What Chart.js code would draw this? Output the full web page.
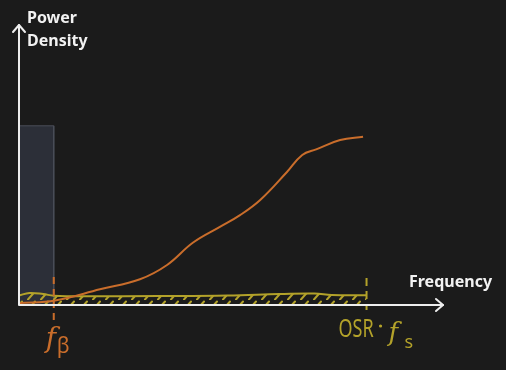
<!DOCTYPE html>
<html>
<head>
<meta charset="utf-8">
<script src="https://cdn.jsdelivr.net/npm/chart.js@4"></script>
<style>
html,body{margin:0;padding:0;background:#1b1b1b;}
#wrap{width:506px;height:370px;}
</style>
</head>
<body>
<div id="wrap"><canvas id="psd" width="506" height="370"></canvas></div>
<script>
// normalized frequency: OSR*fs = 100, power density in arbitrary units
const xMax = 122;
const yMax = 100;
const fB = 10;
const osrFs = 100;
const signalLevel = 64;

const noiseX = [0.3, 10.4, 23.3, 34.8, 42.6, 50.1, 57.8, 63.6, 69.4, 77.1, 81.5, 85.5, 92.4, 99];
const noiseY = [0.7, 1.6, 5.6, 9.2, 14.3, 22.3, 27.9, 32.1, 37.5, 47.5, 53.6, 55.6, 58.9, 60.1];

const floorX = [0, 3, 7, 10, 20, 40, 60, 75, 85, 90, 100];
const floorY = [3.4, 4.3, 3.9, 3.3, 3.1, 3.2, 3.4, 3.9, 4.1, 3.6, 3.5];

const orange = "#c96d2b";
const yellow = "#b3a22a";

function hatch(){
    let c = document.createElement("canvas");
    c.width = 13; c.height = 10;
    let g = c.getContext("2d");
    g.strokeStyle = yellow;
    g.lineWidth = 2;
    g.lineCap = "round";
    g.beginPath();
    g.moveTo(2, 9.5);
    g.lineTo(9, 1.5);
    g.stroke();
    return g.createPattern(c, "repeat");
}

function pts(xs, ys){
    return xs.map((x, i) => ({x: x, y: ys[i]}));
}

const decor = {
    id: "decor",
    beforeDraw(chart){
        let ctx = chart.ctx;
        ctx.save();
        ctx.fillStyle = "#1b1b1b";
        ctx.fillRect(0, 0, chart.width, chart.height);
        ctx.restore();
    },
    afterDraw(chart){
        let ctx = chart.ctx;
        let xs = chart.scales.x, ys = chart.scales.y;
        let x0 = xs.getPixelForValue(0), y0 = ys.getPixelForValue(0);
        let xEnd = xs.getPixelForValue(xMax), yEnd = ys.getPixelForValue(yMax);
        ctx.save();
        ctx.strokeStyle = "#eeeeee";
        ctx.lineWidth = 2;
        ctx.lineCap = "round";
        ctx.lineJoin = "round";
        ctx.beginPath();
        ctx.moveTo(x0, yEnd);
        ctx.lineTo(x0, y0);
        ctx.lineTo(xEnd, y0);
        ctx.stroke();
        ctx.beginPath();
        ctx.moveTo(x0 - 6, yEnd + 7);
        ctx.lineTo(x0, yEnd);
        ctx.lineTo(x0 + 6, yEnd + 7);
        ctx.moveTo(xEnd - 7, y0 - 6);
        ctx.lineTo(xEnd, y0);
        ctx.lineTo(xEnd - 7, y0 + 6);
        ctx.stroke();

        ctx.fillStyle = "#f2f2f2";
        ctx.font = "bold 16px 'Noto Sans'";
        ctx.textBaseline = "alphabetic";
        ctx.fillText("Power", 27, 23);
        ctx.fillText("Density", 27, 46);
        ctx.fillText("Frequency", 409, 287);

        let fx = xs.getPixelForValue(fB);
        ctx.fillStyle = orange;
        ctx.font = "italic 28px 'DejaVu Serif'";
        ctx.fillText("f", fx - 8, 347);
        ctx.font = "21px 'Noto Sans'";
        ctx.fillText("\u03B2", fx + 3, 353);

        let sx = xs.getPixelForValue(osrFs);
        ctx.fillStyle = yellow;
        ctx.save();
        ctx.translate(sx - 28, 337);
        ctx.scale(0.72, 1);
        ctx.font = "25px 'Noto Sans'";
        ctx.fillText("OSR", 0, 0);
        ctx.restore();
        ctx.beginPath();
        ctx.arc(sx + 14, 326, 1.6, 0, Math.PI * 2);
        ctx.fill();
        ctx.font = "italic 26px 'DejaVu Serif'";
        ctx.fillText("f", sx + 22, 341);
        ctx.font = "18px 'Noto Sans'";
        ctx.fillText("s", sx + 38, 348);
        ctx.restore();
    }
};

new Chart(document.getElementById("psd"), {
    type: "line",
    data: {
        datasets: [
            {
                label: "signal band",
                data: pts([0, 0, fB, fB], [0, signalLevel, signalLevel, 0]),
                borderColor: "#4a4e58",
                borderWidth: 1,
                backgroundColor: "#2c2f38",
                fill: "origin",
                pointRadius: 0,
                tension: 0,
                order: 5
            },
            {
                label: "quantization floor",
                data: pts(floorX, floorY),
                borderColor: yellow,
                borderWidth: 2,
                backgroundColor: hatch(),
                fill: "origin",
                pointRadius: 0,
                tension: 0.4,
                order: 2
            },
            {
                label: "shaped noise",
                data: pts(noiseX, noiseY),
                borderColor: orange,
                borderWidth: 2,
                fill: false,
                pointRadius: 0,
                tension: 0.4,
                order: 1
            },
            {
                label: "fB",
                data: pts([fB, fB], [10, -5.5]),
                borderColor: orange,
                borderWidth: 2,
                borderDash: [7, 5],
                pointRadius: 0,
                clip: false,
                order: 0
            },
            {
                label: "OSR fs",
                data: pts([osrFs, osrFs], [9.6, -1.8]),
                borderColor: yellow,
                borderWidth: 2,
                borderDash: [8, 5],
                pointRadius: 0,
                clip: false,
                order: 0
            }
        ]
    },
    options: {
        responsive: false,
        animation: false,
        layout: {padding: {left: 19, right: 63, top: 25, bottom: 65}},
        scales: {
            x: {type: "linear", min: 0, max: xMax, display: false},
            y: {min: 0, max: yMax, display: false}
        },
        plugins: {
            legend: {display: false},
            tooltip: {enabled: false}
        }
    },
    plugins: [decor]
});
</script>
</body>
</html>
